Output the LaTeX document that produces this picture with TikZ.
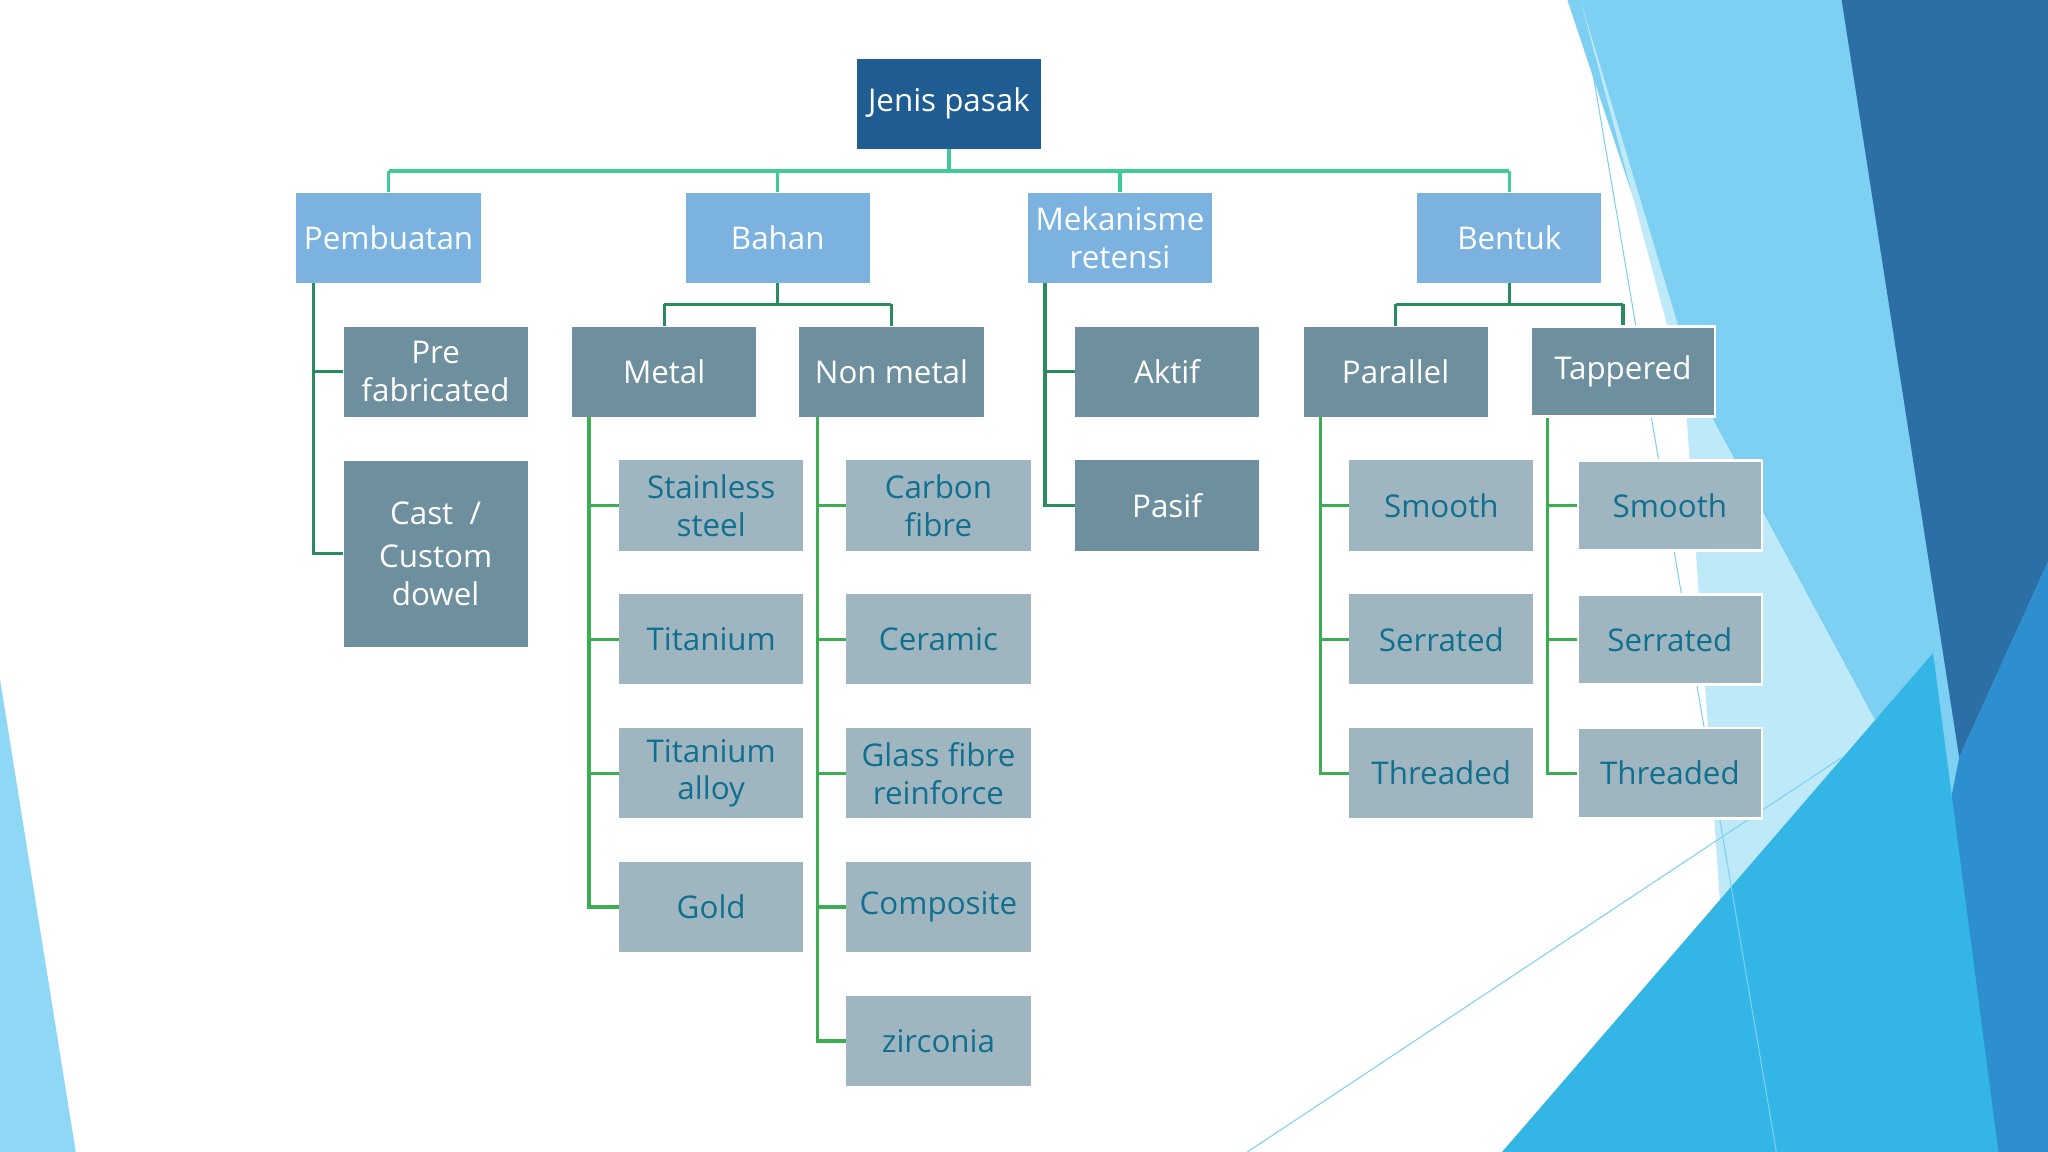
\documentclass[tikz,border=0pt]{standalone}
\usepackage{fontspec}
\setmainfont{Open Sans}
\begin{document}
\begin{tikzpicture}[x=1pt,y=-1pt,
 box/.style={minimum width=141pt,minimum height=69pt,inner sep=0pt,align=center,font=\fontsize{24}{29}\selectfont},
 root/.style={box,fill=top,text=white},
 l1/.style={box,fill=lone,text=white},
 l2/.style={box,fill=ltwo,text=white},
 l3/.style={box,fill=lthree,text=tx},
 wb/.style={draw=white,line width=2pt},
 c0/.style={draw=cA,line width=2.5pt},
 c1/.style={draw=cB,line width=2.5pt},
 c2/.style={draw=cC,line width=2.5pt}]
\definecolor{top}{HTML}{1F5C91}\definecolor{lone}{HTML}{7BB2DF}
\definecolor{ltwo}{HTML}{6E8F9E}\definecolor{lthree}{HTML}{9FB6C1}
\definecolor{tx}{HTML}{11708F}\definecolor{cA}{HTML}{3FCB98}
\definecolor{cB}{HTML}{2A8C5E}\definecolor{cC}{HTML}{3DAD52}
\useasboundingbox (0,0) rectangle (1568,882);
\fill[white] (0,0) rectangle (1568,882);
% background
\fill[fill={rgb,255:red,126;green,208;blue,242}] (1200,0)--(1568,0)--(1568,882)--(1150,882)--(1440,560)--(1300,300)--cycle;
\fill[fill={rgb,255:red,190;green,233;blue,249}] (1210,0)--(1300,300)--(1440,560)--(1150,882)--(1330,882)--(1290,300)--cycle;
\fill[fill={rgb,255:red,43;green,111;blue,166}] (1410,0)--(1568,0)--(1568,430)--(1500,580)--cycle;
\fill[fill={rgb,255:red,46;green,143;blue,208}] (1500,580)--(1568,430)--(1568,882)--(1440,882)--cycle;
\fill[fill={rgb,255:red,51;green,181;blue,229}] (1150,882)--(1480,500)--(1530,882)--cycle;
\draw[draw={rgb,255:red,126;green,208;blue,242},line width=0.8pt] (955,882)--(1410,580);
\draw[draw={rgb,255:red,126;green,208;blue,242},line width=0.8pt] (1210,0)--(1360,882);
\fill[fill={rgb,255:red,142;green,216;blue,245}] (0,520)--(58,882)--(0,882)--cycle;
% nodes
\node[root] (r) at (726.5,79.5) {Jenis pasak};
\node[l1] (pb) at (297.5,182) {Pembuatan};
\node[l1] (bh) at (595.5,182) {Bahan};
\node[l1] (mk) at (857.5,182) {Mekanisme\\retensi};
\node[l1] (bt) at (1155.5,182) {Bentuk};
\node[l2] (pre) at (333.5,284.5) {Pre\\fabricated};
\node[l2,minimum height=142pt] (cast) at (333.5,424) {Cast\ \ /\\[4pt]Custom\\dowel};
\node[l2] (me) at (508.5,284.5) {Metal};
\node[l2] (nm) at (682.5,284.5) {Non metal};
\node[l2] (ak) at (893.5,284.5) {Aktif};
\node[l2] (ps) at (893.5,387) {Pasif};
\node[l2] (pa) at (1068.5,284.5) {Parallel};
\node[l2,wb] (ta) at (1242.5,284.5) {Tappered};
\foreach \n/\t [count=\i from 0] in {ss/{Stainless\\steel},ti/Titanium,tia/{Titanium\\alloy},go/Gold}
 \node[l3] (\n) at (544.5,387+102.5*\i) {\t};
\foreach \n/\t [count=\i from 0] in {cf/{Carbon\\fibre},ce/Ceramic,gf/{Glass fibre\\reinforce},co/Composite,zr/zirconia}
 \node[l3] (\n) at (718.5,387+102.5*\i) {\t};
\foreach \n/\t [count=\i from 0] in {p1/Smooth,p2/Serrated,p3/Threaded}
 \node[l3] (\n) at (1103.5,387+102.5*\i) {\t};
\foreach \n/\t [count=\i from 0] in {t1/Smooth,t2/Serrated,t3/Threaded}
 \node[l3,wb] (\n) at (1278.5,387+102.5*\i) {\t};
% connectors
\coordinate (hb) at (0,131);
\draw[c0] (r.south) -- (r.south|-hb);
\foreach \n in {pb,bh,mk,bt} \draw[c0] (\n.north) -- (\n.north|-hb);
\draw[c0] (pb.north|-hb) -- (bt.north|-hb);
\coordinate (h2) at (0,233);
\draw[c1] (bh.south) -- (bh.south|-h2); \draw[c1] (me.north|-h2) -- (nm.north|-h2);
\draw[c1] (me.north) -- (me.north|-h2); \draw[c1] (nm.north) -- (nm.north|-h2);
\draw[c1] (bt.south) -- (bt.south|-h2); \draw[c1] (pa.north|-h2) -- (ta.north|-h2);
\draw[c1] (pa.north) -- (pa.north|-h2); \draw[c1] (ta.north) -- (ta.north|-h2);
\coordinate (x1) at (240,0);
\draw[c1] (pb.south-|x1) |- (cast.west); \draw[c1] (x1|-pre.west) -- (pre.west);
\coordinate (x2) at (800,0);
\draw[c1] (mk.south-|x2) |- (ps.west); \draw[c1] (x2|-ak.west) -- (ak.west);
\coordinate (x3) at (451,0);
\draw[c2] (me.south-|x3) |- (go.west);
\foreach \n in {ss,ti,tia} \draw[c2] (x3|-\n.west) -- (\n.west);
\coordinate (x4) at (626,0);
\draw[c2] (nm.south-|x4) |- (zr.west);
\foreach \n in {cf,ce,gf,co} \draw[c2] (x4|-\n.west) -- (\n.west);
\coordinate (x5) at (1011,0);
\draw[c2] (pa.south-|x5) |- (p3.west);
\foreach \n in {p1,p2} \draw[c2] (x5|-\n.west) -- (\n.west);
\coordinate (x6) at (1185,0);
\draw[c2] (ta.south-|x6) |- (t3.west);
\foreach \n in {t1,t2} \draw[c2] (x6|-\n.west) -- (\n.west);
\end{tikzpicture}
\end{document}
